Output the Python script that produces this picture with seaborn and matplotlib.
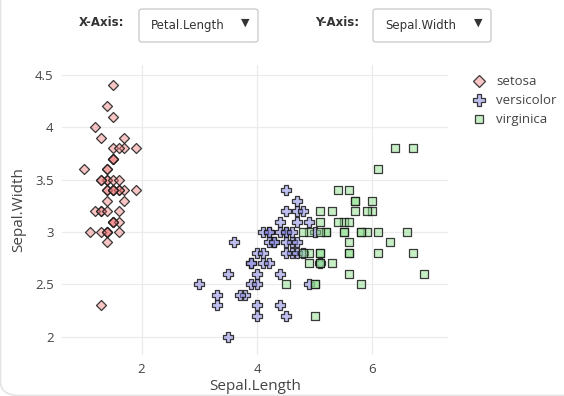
import matplotlib
matplotlib.use("Agg")
import matplotlib.pyplot as plt
from matplotlib.lines import Line2D
from matplotlib.patches import FancyBboxPatch
import seaborn as sns
import pandas as pd

species_names = ["setosa", "versicolor", "virginica"]

setosa_petal_length = [1.4, 1.4, 1.3, 1.5, 1.4, 1.7, 1.4, 1.5, 1.4, 1.5,
                       1.5, 1.6, 1.4, 1.1, 1.2, 1.5, 1.3, 1.4, 1.7, 1.5,
                       1.7, 1.5, 1.0, 1.7, 1.9, 1.6, 1.6, 1.5, 1.4, 1.6,
                       1.6, 1.5, 1.5, 1.4, 1.5, 1.2, 1.3, 1.4, 1.3, 1.5,
                       1.3, 1.3, 1.3, 1.6, 1.9, 1.4, 1.6, 1.4, 1.5, 1.4]
setosa_sepal_width = [3.5, 3.0, 3.2, 3.1, 3.6, 3.9, 3.4, 3.4, 2.9, 3.1,
                      3.7, 3.4, 3.0, 3.0, 4.0, 4.4, 3.9, 3.5, 3.8, 3.8,
                      3.4, 3.7, 3.6, 3.3, 3.4, 3.0, 3.4, 3.5, 3.4, 3.2,
                      3.1, 3.4, 4.1, 4.2, 3.1, 3.2, 3.5, 3.6, 3.0, 3.4,
                      3.5, 2.3, 3.2, 3.5, 3.8, 3.0, 3.8, 3.2, 3.7, 3.3]

versicolor_petal_length = [4.7, 4.5, 4.9, 4.0, 4.6, 4.5, 4.7, 3.3, 4.6, 3.9,
                           3.5, 4.2, 4.0, 4.7, 3.6, 4.4, 4.5, 4.1, 4.5, 3.9,
                           4.8, 4.0, 4.9, 4.7, 4.3, 4.4, 4.8, 5.0, 4.5, 3.5,
                           3.8, 3.7, 3.9, 5.1, 4.5, 4.5, 4.7, 4.4, 4.1, 4.0,
                           4.4, 4.6, 4.0, 3.3, 4.2, 4.2, 4.2, 4.3, 3.0, 4.1]
versicolor_sepal_width = [3.2, 3.2, 3.1, 2.3, 2.8, 2.8, 3.3, 2.4, 2.9, 2.7,
                          2.0, 3.0, 2.2, 2.9, 2.9, 3.1, 3.0, 2.7, 2.2, 2.5,
                          3.2, 2.8, 2.5, 2.8, 2.9, 3.0, 2.8, 3.0, 2.9, 2.6,
                          2.4, 2.4, 2.7, 2.7, 3.0, 3.4, 3.1, 2.3, 3.0, 2.5,
                          2.6, 3.0, 2.6, 2.3, 2.7, 3.0, 2.9, 2.9, 2.5, 2.8]

virginica_petal_length = [6.0, 5.1, 5.9, 5.6, 5.8, 6.6, 4.5, 6.3, 5.8, 6.1,
                          5.1, 5.3, 5.5, 5.0, 5.1, 5.3, 5.5, 6.7, 6.9, 5.0,
                          5.7, 4.9, 6.7, 4.9, 5.7, 6.0, 4.8, 4.9, 5.6, 5.8,
                          6.1, 6.4, 5.6, 5.1, 5.6, 6.1, 5.6, 5.5, 4.8, 5.4,
                          5.6, 5.1, 5.1, 5.9, 5.7, 5.2, 5.0, 5.2, 5.4, 5.1]
virginica_sepal_width = [3.3, 2.7, 3.0, 2.9, 3.0, 3.0, 2.5, 2.9, 2.5, 3.6,
                         3.2, 2.7, 3.0, 2.5, 2.8, 3.2, 3.0, 3.8, 2.6, 2.2,
                         3.2, 2.8, 2.8, 2.7, 3.3, 3.2, 2.8, 3.0, 2.8, 3.0,
                         2.8, 3.8, 2.8, 2.8, 2.6, 3.0, 3.4, 3.1, 3.0, 3.1,
                         3.1, 3.1, 2.7, 3.2, 3.3, 3.0, 2.5, 3.0, 3.4, 3.0]

x_ticks = [2, 4, 6]
y_ticks = [2, 2.5, 3, 3.5, 4, 4.5]
y_tick_labels = ["2", "2.5", "3", "3.5", "4", "4.5"]

df = pd.DataFrame({
    "Petal.Length": setosa_petal_length + versicolor_petal_length + virginica_petal_length,
    "Sepal.Width": setosa_sepal_width + versicolor_sepal_width + virginica_sepal_width,
    "Species": ["setosa"] * 50 + ["versicolor"] * 50 + ["virginica"] * 50,
})

face = {"setosa": (0.94, 0.50, 0.50, 0.45),
        "versicolor": (0.50, 0.50, 0.88, 0.50),
        "virginica": (0.56, 0.88, 0.56, 0.50)}
marker = {"setosa": "D", "versicolor": "P", "virginica": "s"}
msize = {"setosa": 26, "versicolor": 46, "virginica": 31}
edge = (0.1, 0.1, 0.1, 0.85)

sns.set_style("white")
plt.rcParams["font.family"] = ["Open Sans", "DejaVu Sans"]

fig = plt.figure(figsize=(5.64, 3.96), dpi=100)
ax = fig.add_axes([62 / 564, 1 - 355 / 396, (448 - 62) / 564, (355 - 65) / 396])

for sp in species_names:
    sub = df[df["Species"] == sp]
    n_before = len(ax.collections)
    sns.scatterplot(data=sub, x="Petal.Length", y="Sepal.Width", ax=ax,
                    marker=marker[sp], s=msize[sp], legend=False,
                    color=face[sp][:3], linewidth=0.9, zorder=3)
    coll = ax.collections[n_before]
    coll.set_facecolor(face[sp])
    coll.set_edgecolor(edge)

ax.set_xlim(0.62, 7.31)
ax.set_ylim(1.825, 4.595)
ax.set_xticks(x_ticks)
ax.set_xticklabels([str(t) for t in x_ticks])
ax.set_yticks(y_ticks)
ax.set_yticklabels(y_tick_labels)
ax.grid(True, color="#ebebeb", linewidth=0.9, zorder=0)
ax.set_axisbelow(True)
for s in ax.spines.values():
    s.set_visible(False)
ax.tick_params(axis="both", length=0, labelsize=9.5, colors="#444444", pad=6)
ax.set_xlabel("Sepal.Length", fontsize=11, color="#444444", labelpad=2)
ax.set_ylabel("Sepal.Width", fontsize=11, color="#444444", labelpad=6)

handles = [Line2D([], [], linestyle="none", marker=marker[sp],
                  markersize={"setosa": 6.0, "versicolor": 8.0, "virginica": 6.0}[sp],
                  markerfacecolor=face[sp], markeredgecolor=edge, markeredgewidth=0.9)
           for sp in species_names]
fig.legend(handles, species_names, loc="upper left",
           bbox_to_anchor=(466 / 564, 1 - 70 / 396), frameon=False,
           fontsize=9.5, labelcolor="#444444", handlelength=1.2,
           handletextpad=0.7, labelspacing=0.45, borderaxespad=0)

# top controls
ctrl_font = ["DejaVu Sans"]
fig.text(124 / 564, 1 - 23 / 396, "X-Axis:", ha="right", va="center",
         fontsize=8.5, fontweight="bold", color="#333333", family=ctrl_font)
fig.text(359 / 564, 1 - 23 / 396, "Y-Axis:", ha="right", va="center",
         fontsize=8.5, fontweight="bold", color="#333333", family=ctrl_font)
for x0, x1, label in [(139, 258, "Petal.Length"), (373, 491, "Sepal.Width")]:
    box = FancyBboxPatch((x0 / 564, 1 - 42 / 396), (x1 - x0) / 564, 33 / 396,
                         boxstyle="round,pad=0,rounding_size=0.006",
                         transform=fig.transFigure, facecolor="white",
                         edgecolor="#c8c8c8", linewidth=0.9)
    fig.patches.append(box)
    fig.text((x0 + 12) / 564, 1 - 25 / 396, label, ha="left", va="center",
             fontsize=8.5, color="#333333", family=ctrl_font)
    fig.text((x1 - 13) / 564, 1 - 23 / 396, "\u25BC", ha="center", va="center",
             fontsize=8, color="#333333", family=ctrl_font)

# faint card border at the bottom-left corner
card = FancyBboxPatch((0.5 / 564, 0.5 / 396), 1.2, 1.2,
                      boxstyle="round,pad=0,rounding_size=0.035",
                      transform=fig.transFigure, facecolor="none",
                      edgecolor="#e4e4e4", linewidth=1.2)
fig.patches.append(card)

fig.savefig("out.png", dpi=100, facecolor="white")
